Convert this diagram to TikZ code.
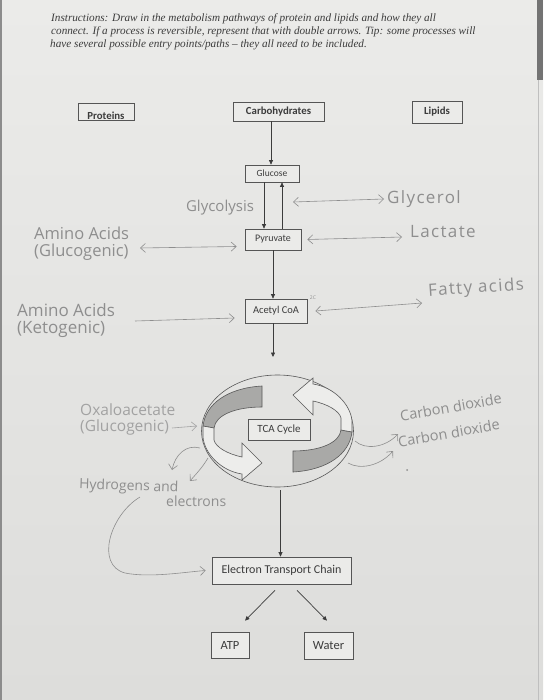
\documentclass[tikz,border=0pt]{standalone}
\usepackage{fontspec}
\setmainfont{Carlito}
\newfontfamily\handf{Open Sans}
\newfontfamily\handw{Open Sans}[LetterSpace=8]
\newfontfamily\instrf{Liberation Serif}
\usetikzlibrary{arrows.meta}
\definecolor{papertop}{HTML}{EBEBE9}
\definecolor{paperbot}{HTML}{DDDDDB}
\definecolor{ink}{HTML}{3C3C3C}
\definecolor{boxline}{HTML}{555555}
\definecolor{pencil}{HTML}{8E8E8E}
\definecolor{faint}{HTML}{A2A2A2}
\definecolor{band}{HTML}{A9A9A7}
\definecolor{ribbon}{HTML}{EDEDEB}
\newcommand{\hs}[1]{\handf\fontsize{#1}{#1}\selectfont}
\newcommand{\hw}[1]{\handw\fontsize{#1}{#1}\selectfont}
\begin{document}
\begin{tikzpicture}[x=1pt,y=-1pt,
  box/.style={draw=boxline, line width=0.7pt, fill=papertop, inner sep=0pt, text=ink, font=\fontsize{10}{11}\selectfont},
  parrow/.style={draw=ink, line width=0.7pt, -{Triangle[length=4.5pt,width=4pt]}},
  hw/.style={text=pencil, inner sep=0pt, font=\hs{15}, align=left},
  harrow/.style={draw=pencil, line width=0.6pt, -{Straight Barb[length=5pt,width=9pt]}},
  hdarrow/.style={draw=pencil, line width=0.6pt, {Straight Barb[length=5pt,width=9pt]}-{Straight Barb[length=5pt,width=9pt]}},
  instr/.style={inner sep=0pt, text=ink, font=\instrf\itshape\fontsize{11.2}{13}\selectfont},
  cyc/.style={draw=ink!85, line width=0.6pt}]
\useasboundingbox (0,0) rectangle (543,700);
\shade[top color=papertop, bottom color=paperbot] (0,0) rectangle (543,700);
\fill[black!45] (0,0) rectangle (2,700);
\fill[black!55] (537,0) rectangle (543,80);
\draw[black!25, line width=0.8pt] (538,80) -- (538,700);

% instructions
\node[instr, anchor=base west] (ins1) at (51,22) {Instructions: Draw in the metabolism pathways of protein and lipids and how they all};
\node[instr, anchor=base west] (ins2) at (51,35) {connect. If a process is reversible, represent that with double arrows. Tip: some processes will};
\node[instr, anchor=base west] (ins3) at (50,48) {have several possible entry points/paths – they all need to be included.};

% top boxes
\node[box, minimum width=56pt, minimum height=17pt] (prot) at (106,111.5) {};
\begin{scope}
\clip ([shift={(0.4,-0.6)}]prot.south west) rectangle (prot.north east);
\node[inner sep=0pt, text=ink, font=\bfseries\fontsize{10.8}{12}\selectfont, anchor=base] (protxt) at (106,119.3) {Proteins};
\end{scope}
\node[box, minimum width=91pt, minimum height=19pt, font=\bfseries\fontsize{10.8}{12}\selectfont] (carb) at (278.5,111.5) {Carbohydrates};
\node[box, minimum width=50pt, minimum height=22pt, font=\bfseries\fontsize{10.8}{12}\selectfont] (lip) at (437,112) {Lipids};

% central chain
\node[box, minimum width=54pt, minimum height=17pt, font=\fontsize{9.5}{10}\selectfont] (glu) at (272,173.5) {Glucose};
\node[box, minimum width=56pt, minimum height=21pt] (pyr) at (273,239.5) {Pyruvate};
\node[box, minimum width=62pt, minimum height=24pt, font=\fontsize{10.5}{12}\selectfont] (acoa) at (276,311) {Acetyl CoA};

\draw[parrow] ([xshift=-7.5pt]carb.south) -- ([xshift=-1pt]glu.north);
\draw[parrow] ([xshift=-8pt]glu.south) -- ([xshift=-9pt]pyr.north);
\draw[parrow] ([xshift=9pt]pyr.north) -- ([xshift=10pt]glu.south);
\draw[parrow] (pyr.south) -- ([xshift=-3pt]acoa.north);
\coordinate (tcatop) at (273,357);
\draw[parrow] ([xshift=-3pt]acoa.south) -- (tcatop);

% TCA cycle clipart
\begin{scope}[shift={(277.5,429)}]
\draw[cyc] (0,2) ellipse [x radius=76, y radius=56];
\foreach \r in {0,180}{
\begin{scope}[rotate=\r]
\filldraw[cyc, fill=band] (-15.5,-43) .. controls (-50,-41) and (-72,-25) .. (-74.5,-3)
   -- (-63.5,-1) .. controls (-62,-14) and (-42,-22) .. (-15.5,-22) -- cycle;
\filldraw[cyc, fill=ribbon] (-74.5,-3) -- (-74.5,8) .. controls (-73,25) and (-56,42) .. (-35.5,45)
   -- (-35.5,51) -- (-15.5,34) -- (-35.5,14) -- (-35.5,28)
   .. controls (-50,25) and (-62,18) .. (-63.5,11) -- (-63.5,-1) -- cycle;
\end{scope}}
\end{scope}
\node[box, minimum width=62pt, minimum height=21pt, font=\fontsize{11}{12}\selectfont] (tca) at (279,429.5) {TCA Cycle};

\node[box, minimum width=139pt, minimum height=27pt, font=\fontsize{12}{13}\selectfont] (etc) at (281.5,570.5) {Electron Transport Chain};
\node[box, minimum width=38pt, minimum height=26pt, font=\fontsize{12.5}{13}\selectfont] (atp) at (230,645) {ATP};
\node[box, minimum width=49pt, minimum height=27pt, font=\fontsize{12.5}{13}\selectfont] (water) at (328.5,645.5) {Water};
\coordinate (tcabot) at (280.5,490);
\draw[parrow] (tcabot) -- ([xshift=-1pt]etc.north);
\draw[parrow] ([shift={(-6.5,6)}]etc.south) -- ([shift={(15,-11)}]atp.north);
\draw[parrow] ([shift={(15.5,6)}]etc.south) -- ([shift={(-1.5,-11)}]water.north);

% handwritten labels
\node[hw, font=\hs{15}] (glyco) at (220,208) {Glycolysis};
\node[hw, anchor=west, font=\hw{17}] (glycerol) at (387,199) {Glycerol};
\node[hw, anchor=west, font=\hw{17}] (lactate) at (410,232) {Lactate};
\node[hw, anchor=west, rotate=4, font=\hw{17}] (fatty) at (428,292) {Fatty acids};
\node[hw, font=\handf\fontsize{5}{5}\selectfont] (twoc) at (313,298) {2C};
\node[hw, anchor=north west, font=\hs{16.5}] (aag) at (34,227) {Amino Acids\\(Glucogenic)};
\node[hw, anchor=north west, font=\hs{17}] (aak) at (17,303) {Amino Acids\\(Ketogenic)};
\node[hw, anchor=north west, text=faint, font=\hs{15.5}] (oxa) at (80,404) {Oxaloacetate\\(Glucogenic)};
\node[hw, anchor=west, rotate=-2, font=\hs{14}] (hyd) at (79,485) {Hydrogens and};
\node[hw, anchor=west, font=\hs{14}] (elec) at (166,501) {electrons};
\node[hw, anchor=west, rotate=10, font=\hs{14.5}] (co2a) at (400,416) {Carbon dioxide};
\node[hw, anchor=west, rotate=10, font=\hs{14.5}] (co2b) at (398,442) {Carbon dioxide};

% handwritten arrows
\coordinate (gly0) at (293,202);
\draw[hdarrow] (gly0) -- ([xshift=-3pt]glycerol.west);
\draw[hdarrow] ([xshift=6pt]pyr.east) -- ([shift={(-8,5)}]lactate.west);
\draw[hdarrow] ([xshift=8pt]acoa.east) -- ([shift={(-6,11)}]fatty.west);
\coordinate (aag0) at (140,248);
\draw[hdarrow] (aag0) -- ([shift={(-8,7)}]pyr.west);
\coordinate (aak0) at (135,321);
\draw[harrow] (aak0) -- ([shift={(-10,7)}]acoa.west);
\coordinate (oxa0) at (172,428);
\coordinate (oxa1) at (197,426);
\draw[harrow, draw=faint] (oxa0) -- (oxa1);
\coordinate (h1) at (200,448);
\coordinate (h2) at (208,458);
\draw[harrow] (h1) .. controls (186,444) and (175,455) .. (172,470);
\draw[harrow] (h2) .. controls (202,468) and (196,474) .. (190,481);
\coordinate (h3) at (140,497);
\draw[harrow] (h3) .. controls (110,515) and (95,565) .. (125,573) .. controls (150,578) and (185,572) .. ([xshift=-6pt]etc.west);
\coordinate (c1) at (355,441);
\coordinate (c2) at (348,463);
\draw[harrow] (c1) .. controls (365,450) and (385,448) .. (398,434);
\draw[harrow] (c2) .. controls (360,470) and (380,466) .. (393,451);
\fill[pencil] (407,470) circle (1pt);
\end{tikzpicture}
\end{document}
